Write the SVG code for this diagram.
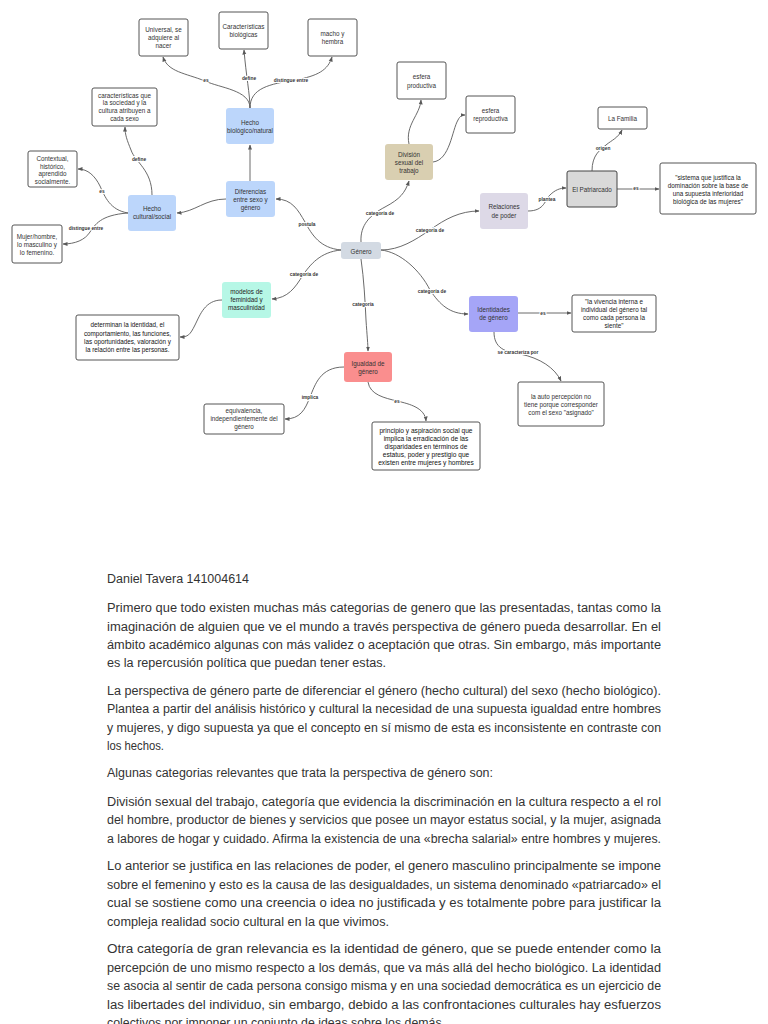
<svg xmlns="http://www.w3.org/2000/svg" width="768" height="1024" viewBox="0 0 768 1024">
<style>
.box{fill:#fff;stroke:#555;stroke-width:1}
.t{font-family:"Liberation Sans",Arial,sans-serif;font-size:6.3px;fill:#333;text-anchor:middle;dominant-baseline:central}
.lbl{font-family:"Liberation Sans",Arial,sans-serif;font-size:4.8px;font-weight:bold;fill:#333;text-anchor:middle;dominant-baseline:central;stroke:#fff;stroke-width:2;paint-order:stroke}
.c{fill:none;stroke:#595959;stroke-width:0.9;marker-end:url(#a)}
.p{font-family:"Liberation Sans",Arial,sans-serif;font-size:12.5px;fill:#333}
</style>
<defs>
<marker id="a" viewBox="0 0 10 10" refX="9" refY="5" markerWidth="5" markerHeight="5" markerUnits="userSpaceOnUse" orient="auto"><path d="M0,1 L10,5 L0,9 z" fill="#595959"/></marker>
</defs>
<rect width="768" height="1024" fill="#fff"/>

<g id="connectors">
<path class="c" d="M250,108 C250,90 220,88 205,81 C185,73 168,72 163,57"/>
<path class="c" d="M250,108 C250,95 246,75 244,50"/>
<path class="c" d="M250,108 C250,88 270,84 295,80 C318,76 328,70 332,57"/>
<path class="c" d="M250,181 L250,145"/>
<path class="c" d="M226,199 C205,199 195,212 177,213"/>
<path class="c" d="M152,195 C152,170 135,162 131,150 C127,140 125,135 125,127"/>
<path class="c" d="M128,213 C110,210 105,197 100,186 C95,176 88,169 78,169"/>
<path class="c" d="M128,213 C100,215 95,225 90,232 C85,240 75,244 63,244"/>
<path class="c" d="M341,250 C320,248 312,235 305,222 C298,210 292,199 276,199"/>
<path class="c" d="M361,242 C360,225 370,215 385,207 C400,199 405,193 409,181"/>
<path class="c" d="M381,250 C400,250 415,240 430,230 C445,219 460,211 479,211"/>
<path class="c" d="M381,250 C400,252 420,270 430,290 C440,305 450,314 468,314"/>
<path class="c" d="M361,259 C364,280 365,300 366,320 C367,335 368,345 368,351"/>
<path class="c" d="M341,250 C320,252 310,265 303,275 C295,288 288,298 272,299"/>
<path class="c" d="M409,144 C405,125 420,115 421,100"/>
<path class="c" d="M433,162 C450,160 452,130 458,120 C460,116 462,115 465,115"/>
<path class="c" d="M528,211 C545,211 545,199 550,195 C555,190 560,188 566,188"/>
<path class="c" d="M592,171 C592,155 600,150 606,145 C612,140 618,138 622,130"/>
<path class="c" d="M617,189 L659,189"/>
<path class="c" d="M518,313 L571,313"/>
<path class="c" d="M494,332 C494,348 505,352 520,354 C540,358 555,368 561,381"/>
<path class="c" d="M344,367 C320,367 315,385 310,397 C305,410 300,419 285,419"/>
<path class="c" d="M368,382 C370,395 385,398 397,401 C410,404 425,408 426,421"/>
<path class="c" d="M222,300 C205,300 200,315 195,325 C190,335 188,337 180,337"/>
<text class="lbl" x="206" y="80">es</text>
<text class="lbl" x="249" y="78">define</text>
<text class="lbl" x="291" y="80">distingue entre</text>
<text class="lbl" x="139" y="159">define</text>
<text class="lbl" x="102" y="191">es</text>
<text class="lbl" x="86" y="228">distingue entre</text>
<text class="lbl" x="307" y="224">postula</text>
<text class="lbl" x="380" y="213">categoría de</text>
<text class="lbl" x="430" y="230">categoría de</text>
<text class="lbl" x="432" y="291">categoría de</text>
<text class="lbl" x="363" y="304">categoría</text>
<text class="lbl" x="304" y="274">categoría de</text>
<text class="lbl" x="547" y="199">plantea</text>
<text class="lbl" x="603" y="148">origen</text>
<text class="lbl" x="636" y="188">es</text>
<text class="lbl" x="543" y="313">es</text>
<text class="lbl" x="518" y="352">se caracteriza por</text>
<text class="lbl" x="310" y="397">implica</text>
<text class="lbl" x="397" y="401">es</text>
</g>

<g id="universal"><rect class="box" x="139" y="19" width="49" height="37" rx="2"/><text class="t"><tspan x="163.5" y="29">Universal, se</tspan><tspan x="163.5" y="37">adquiere al</tspan><tspan x="163.5" y="45">nacer</tspan></text></g>
<g id="caracteristicas-biologicas"><rect class="box" x="219" y="12" width="49" height="37" rx="2"/><text class="t"><tspan x="243.5" y="25.5">Características</tspan><tspan x="243.5" y="33.5">biológicas</tspan></text></g>
<g id="macho-hembra"><rect class="box" x="308" y="19" width="49" height="37" rx="2"/><text class="t"><tspan x="332.5" y="33">macho y</tspan><tspan x="332.5" y="41">hembra</tspan></text></g>
<g id="hecho-biologico"><rect x="226" y="108" width="48" height="36" rx="3" fill="#bcd6fb"/><text class="t"><tspan x="250" y="121.5">Hecho</tspan><tspan x="250" y="129.5">biológico/natural</tspan></text></g>
<g id="diferencias"><rect x="226" y="181" width="49" height="36" rx="3" fill="#bcd6fb"/><text class="t"><tspan x="250.5" y="191">Diferencias</tspan><tspan x="250.5" y="199">entre sexo y</tspan><tspan x="250.5" y="207">género</tspan></text></g>
<g id="caracteristicas-sociedad"><rect class="box" x="92" y="88" width="65" height="38" rx="2"/><text class="t"><tspan x="124.5" y="94.5">características que</tspan><tspan x="124.5" y="102">la sociedad y la</tspan><tspan x="124.5" y="110">cultura atribuyen a</tspan><tspan x="124.5" y="118">cada sexo</tspan></text></g>
<g id="contextual"><rect class="box" x="28" y="151" width="49" height="36" rx="2"/><text class="t"><tspan x="52.5" y="158">Contextual,</tspan><tspan x="52.5" y="165.5">histórico,</tspan><tspan x="52.5" y="173">aprendido</tspan><tspan x="52.5" y="181">socialmente.</tspan></text></g>
<g id="hecho-cultural"><rect x="128" y="195" width="48" height="36" rx="3" fill="#bcd6fb"/><text class="t"><tspan x="152" y="208">Hecho</tspan><tspan x="152" y="216">cultural/social</tspan></text></g>
<g id="mujer-hombre"><rect class="box" x="12" y="225" width="50" height="38" rx="2"/><text class="t"><tspan x="37" y="236">Mujer/hombre,</tspan><tspan x="37" y="244">lo masculino y</tspan><tspan x="37" y="252">lo femenino.</tspan></text></g>
<g id="genero"><rect x="341" y="242" width="40" height="17" rx="3" fill="#d3dae3"/><text class="t"><tspan x="361" y="250.5">Género</tspan></text></g>
<g id="division-sexual"><rect x="385" y="144" width="48" height="36" rx="3" fill="#d9cfb1"/><text class="t"><tspan x="409" y="154">División</tspan><tspan x="409" y="162">sexual del</tspan><tspan x="409" y="170">trabajo</tspan></text></g>
<g id="esfera-productiva"><rect class="box" x="397" y="62" width="49" height="37" rx="2"/><text class="t"><tspan x="421.5" y="76">esfera</tspan><tspan x="421.5" y="84.5">productiva</tspan></text></g>
<g id="esfera-reproductiva"><rect class="box" x="466" y="96" width="49" height="37" rx="2"/><text class="t"><tspan x="490.5" y="110">esfera</tspan><tspan x="490.5" y="118">reproductiva</tspan></text></g>
<g id="la-familia"><rect class="box" x="598" y="107" width="49" height="22" rx="2"/><text class="t"><tspan x="622.5" y="118">La Familia</tspan></text></g>
<g id="patriarcado"><rect x="567" y="171" width="50" height="36" rx="2" fill="#d9d9d9" stroke="#444" stroke-width="1"/><text class="t"><tspan x="592" y="188.5">El Patriarcado</tspan></text></g>
<g id="sistema"><rect class="box" x="660" y="163" width="96" height="51" rx="2"/><text class="t" style="fill:#222"><tspan x="708" y="177">"sistema que justifica la</tspan><tspan x="708" y="185">dominación sobre la base de</tspan><tspan x="708" y="193">una supuesta inferioridad</tspan><tspan x="708" y="201">biológica de las mujeres"</tspan></text></g>
<g id="relaciones-poder"><rect x="480" y="193" width="48" height="36" rx="3" fill="#ddd9e7"/><text class="t"><tspan x="504" y="206">Relaciones</tspan><tspan x="504" y="214.5">de poder</tspan></text></g>
<g id="identidades"><rect x="469" y="296" width="49" height="36" rx="3" fill="#a5a5f7"/><text class="t"><tspan x="493.5" y="309">Identidades</tspan><tspan x="493.5" y="317">de género</tspan></text></g>
<g id="vivencia"><rect class="box" x="572" y="295" width="84" height="37" rx="2"/><text class="t" style="fill:#222"><tspan x="614" y="301">"la vivencia interna e</tspan><tspan x="614" y="309">individual del género tal</tspan><tspan x="614" y="317">como cada persona la</tspan><tspan x="614" y="325">siente"</tspan></text></g>
<g id="auto-percepcion"><rect class="box" x="518" y="382" width="86" height="44" rx="2"/><text class="t"><tspan x="561" y="396">la auto percepción no</tspan><tspan x="561" y="404">tiene porque corresponder</tspan><tspan x="561" y="412">com el sexo  "asignado"</tspan></text></g>
<g id="igualdad"><rect x="344" y="352" width="48" height="30" rx="3" fill="#fa8e8e"/><text class="t"><tspan x="368" y="363">Igualdad de</tspan><tspan x="368" y="371">género</tspan></text></g>
<g id="principio"><rect class="box" x="372" y="422" width="108" height="48" rx="2"/><text class="t" style="font-size:6.6px;fill:#111"><tspan x="426" y="430">principio y aspiración social que</tspan><tspan x="426" y="438">implica la erradicación de las</tspan><tspan x="426" y="446">disparidades en términos de</tspan><tspan x="426" y="454">estatus, poder y prestigio que</tspan><tspan x="426" y="462">existen entre mujeres y hombres</tspan></text></g>
<g id="equivalencia"><rect class="box" x="204" y="404" width="80" height="30" rx="2"/><text class="t"><tspan x="244" y="409.5">equivalencia,</tspan><tspan x="244" y="418">independientemente del</tspan><tspan x="244" y="426">género</tspan></text></g>
<g id="modelos"><rect x="222" y="282" width="49" height="36" rx="3" fill="#b6f7e6"/><text class="t" style="fill:#222"><tspan x="246.5" y="291">modelos de</tspan><tspan x="246.5" y="299">feminidad y</tspan><tspan x="246.5" y="307">masculinidad</tspan></text></g>
<g id="determinan"><rect class="box" x="76" y="315" width="103" height="45" rx="2"/><text class="t" style="fill:#111"><tspan x="127.5" y="324">determinan la identidad, el</tspan><tspan x="127.5" y="332.5">comportamiento, las funciones,</tspan><tspan x="127.5" y="341">las oportunidades, valoración y</tspan><tspan x="127.5" y="349">la relación entre las personas.</tspan></text></g>

<g id="texto">
<text class="p" x="107" y="583" textLength="142" lengthAdjust="spacingAndGlyphs">Daniel Tavera 141004614</text>
<text class="p" x="107" y="612" textLength="554" lengthAdjust="spacingAndGlyphs">Primero que todo existen muchas más categorias de genero que las presentadas, tantas como la</text>
<text class="p" x="107" y="631" textLength="554" lengthAdjust="spacingAndGlyphs">imaginación de alguien que ve el mundo a través perspectiva de género pueda desarrollar. En el</text>
<text class="p" x="107" y="649" textLength="554" lengthAdjust="spacingAndGlyphs">ámbito académico algunas con más validez o aceptación que otras. Sin embargo, más importante</text>
<text class="p" x="107" y="667" textLength="279" lengthAdjust="spacingAndGlyphs">es la repercusión política que puedan tener estas.</text>
<text class="p" x="107" y="695" textLength="554" lengthAdjust="spacingAndGlyphs">La perspectiva de género parte de diferenciar el género (hecho cultural) del sexo (hecho biológico).</text>
<text class="p" x="107" y="713" textLength="554" lengthAdjust="spacingAndGlyphs">Plantea a partir del análisis histórico y cultural la necesidad de una supuesta igualdad entre hombres</text>
<text class="p" x="107" y="732" textLength="554" lengthAdjust="spacingAndGlyphs">y mujeres, y digo supuesta ya que el concepto en sí mismo de esta es inconsistente en contraste con</text>
<text class="p" x="107" y="750" textLength="57" lengthAdjust="spacingAndGlyphs">los hechos.</text>
<text class="p" x="107" y="777" textLength="386" lengthAdjust="spacingAndGlyphs">Algunas categorias relevantes que trata la perspectiva de género son:</text>
<text class="p" x="107" y="806" textLength="554" lengthAdjust="spacingAndGlyphs">División sexual del trabajo, categoría que evidencia la discriminación en la cultura respecto a el rol</text>
<text class="p" x="107" y="824" textLength="554" lengthAdjust="spacingAndGlyphs">del hombre, productor de bienes y servicios que posee un mayor estatus social, y la mujer, asignada</text>
<text class="p" x="107" y="843" textLength="554" lengthAdjust="spacingAndGlyphs">a labores de hogar y cuidado. Afirma la existencia de una «brecha salarial» entre hombres y mujeres.</text>
<text class="p" x="107" y="870" textLength="554" lengthAdjust="spacingAndGlyphs">Lo anterior se justifica en las relaciones de poder, el genero masculino principalmente se impone</text>
<text class="p" x="107" y="889" textLength="554" lengthAdjust="spacingAndGlyphs">sobre el femenino y esto es la causa de las desigualdades, un sistema denominado «patriarcado» el</text>
<text class="p" x="107" y="907" textLength="554" lengthAdjust="spacingAndGlyphs">cual se sostiene como una creencia o idea no justificada y es totalmente pobre para justificar la</text>
<text class="p" x="107" y="926" textLength="282" lengthAdjust="spacingAndGlyphs">compleja realidad socio cultural en la que vivimos.</text>
<text class="p" x="107" y="953" textLength="554" lengthAdjust="spacingAndGlyphs">Otra categoría de gran relevancia es la identidad de género, que se puede entender como la</text>
<text class="p" x="107" y="972" textLength="554" lengthAdjust="spacingAndGlyphs">percepción de uno mismo respecto a los demás, que va más allá del hecho biológico. La identidad</text>
<text class="p" x="107" y="990" textLength="554" lengthAdjust="spacingAndGlyphs">se asocia al sentir de cada persona consigo misma y en una sociedad democrática es un ejercicio de</text>
<text class="p" x="107" y="1009" textLength="554" lengthAdjust="spacingAndGlyphs">las libertades del individuo, sin embargo, debido a las confrontaciones culturales hay esfuerzos</text>
<text class="p" x="107" y="1027" textLength="338" lengthAdjust="spacingAndGlyphs">colectivos por imponer un conjunto de ideas sobre los demás.</text>
</g>
</svg>
